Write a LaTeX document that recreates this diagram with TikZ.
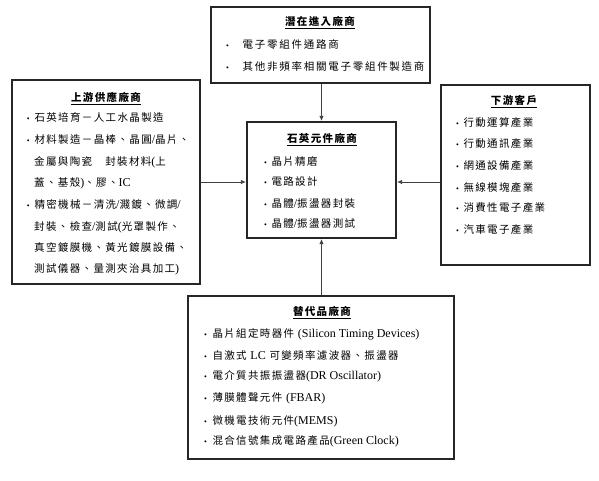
\documentclass[tikz,border=0pt]{standalone}
\usepackage{fontspec}
\setmainfont{Liberation Serif}
\newfontfamily\cjkf[LetterSpace=13]{Noto Sans CJK TC}
\newfontfamily\cjkw[LetterSpace=16.5]{Noto Sans CJK TC}
\usetikzlibrary{arrows.meta}
\newcommand\en[1]{{\rmfamily\fontsize{12}{14}\selectfont #1}}
\newcommand\blt{{\rmfamily\fontsize{8}{9}\selectfont\raisebox{0.6pt}{•}}}
\begin{document}
\begin{tikzpicture}[x=1pt,y=-1pt,
  box/.style={draw=black!85, line width=2.2pt, inner sep=0pt, fill=white},
  txt/.style={inner sep=0pt, anchor=base west, yshift=-0.4pt, font=\cjkf\fontsize{10.5}{12}\selectfont},
  wtxt/.style={txt, font=\cjkw\fontsize{10.5}{12}\selectfont},
  ttl/.style={inner sep=0pt, anchor=base, yshift=-0.4pt, font=\cjkf\bfseries\fontsize{10.5}{12}\selectfont},
  arr/.style={draw=black!75, line width=0.8pt, -{Latex[length=5pt,width=4.5pt]}}]
\useasboundingbox (0,0) rectangle (599,481);
\fill[white] (0,0) rectangle (599,481);

% boxes
\node[box, minimum width=219pt, minimum height=76pt] (top) at (320.5,45) {};
\node[box, minimum width=188pt, minimum height=204pt] (lft) at (106,182) {};
\node[box, minimum width=149pt, minimum height=116pt] (ctr) at (321.5,180) {};
\node[box, minimum width=149pt, minimum height=180pt] (rgt) at (515.5,175) {};
\node[box, minimum width=266pt, minimum height=163pt] (bot) at (321,377.5) {};

% top box
\node[ttl] (t0) at (320,25.5) {\underline{潛在進入廠商}};
\node[wtxt] (t1) at (226,48.5) {\blt\hspace{13.7pt}電子零組件通路商};
\node[wtxt] (t2) at (226,70.5) {\blt\hspace{13.7pt}其他非頻率相關電子零組件製造商};

% left box
\node[ttl] (l0) at (106,101) {\underline{上游供應廠商}};
\node[txt] (l1) at (26.8,121.5) {\blt\hspace{4.7pt}石英培育－人工水晶製造};
\node[txt] (l2) at (26.8,143.5) {\blt\hspace{4.7pt}材料製造－晶棒、晶圓\en{/}晶片、};
\node[txt] (l3) at (34,165.5) {金屬與陶瓷　封裝材料\en{(}上};
\node[txt] (l4) at (34,186.5) {蓋、基殼\en{)}、膠、\en{IC}};
\node[txt] (l5) at (26.8,208.5) {\blt\hspace{4.7pt}精密機械－清洗\en{/}濺鍍、微調\en{/}};
\node[txt] (l6) at (34,230.5) {封裝、檢查\en{/}測試\en{(}光罩製作、};
\node[txt] (l7) at (34,251.5) {真空鍍膜機、黃光鍍膜設備、};
\node[txt] (l8) at (34,272.5) {測試儀器、量測夾治具加工\en{)}};

% center box
\node[ttl] (c0) at (322,142) {\underline{石英元件廠商}};
\node[txt] (c1) at (263.8,165.5) {\blt\hspace{4.7pt}晶片精磨};
\node[txt] (c2) at (263.8,185.5) {\blt\hspace{4.7pt}電路設計};
\node[txt] (c3) at (263.8,207.5) {\blt\hspace{4.7pt}晶體\en{/}振盪器封裝};
\node[txt] (c4) at (263.8,227.5) {\blt\hspace{4.7pt}晶體\en{/}振盪器測試};

% right box
\node[ttl] (r0) at (514,104) {\underline{下游客戶}};
\node[txt] (r1) at (455.8,126.5) {\blt\hspace{4.7pt}行動運算產業};
\node[txt] (r2) at (455.8,147.5) {\blt\hspace{4.7pt}行動通訊產業};
\node[txt] (r3) at (455.8,169.5) {\blt\hspace{4.7pt}網通設備產業};
\node[txt] (r4) at (455.8,191.5) {\blt\hspace{4.7pt}無線模塊產業};
\node[txt] (r5) at (455.8,211.5) {\blt\hspace{4.7pt}消費性電子產業};
\node[txt] (r6) at (455.8,233.5) {\blt\hspace{4.7pt}汽車電子產業};

% bottom box
\node[ttl] (b0) at (322,315.5) {\underline{替代品廠商}};
\node[txt] (b1) at (203.8,337.5) {\blt\hspace{5.7pt}晶片組定時器件 \en{(Silicon Timing Devices)}};
\node[txt] (b2) at (203.8,359.5) {\blt\hspace{5.7pt}自激式 \en{LC} 可變頻率濾波器、振盪器};
\node[txt] (b3) at (203.8,379.5) {\blt\hspace{5.7pt}電介質共振振盪器\en{(DR Oscillator)}};
\node[txt] (b4) at (203.8,401.5) {\blt\hspace{5.7pt}薄膜體聲元件 \en{(FBAR)}};
\node[txt] (b5) at (203.8,424.5) {\blt\hspace{5.7pt}微機電技術元件\en{(MEMS)}};
\node[txt] (b6) at (203.8,444.5) {\blt\hspace{5.7pt}混合信號集成電路產品\en{(Green Clock)}};

% connectors
\draw[arr] (ctr.north |- top.south) -- (ctr.north);
\draw[arr] (ctr.south |- bot.north) -- (ctr.south);
\draw[arr] (lft.east) -- (lft.east -| ctr.west);
\draw[arr] (lft.east -| rgt.west) -- (lft.east -| ctr.east);
\end{tikzpicture}
\end{document}
